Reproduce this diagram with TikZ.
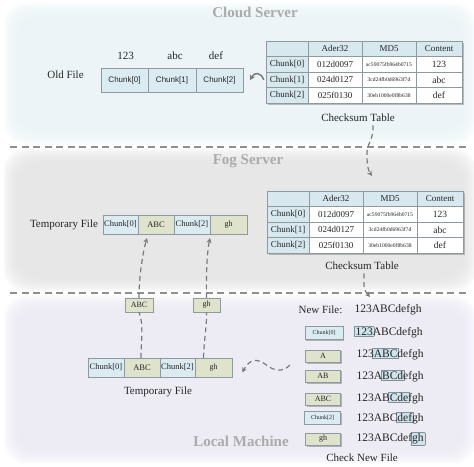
\documentclass[tikz,border=0pt]{standalone}
\usepackage{fontspec}
\setmainfont{Liberation Serif}
\newfontfamily\sansf{Liberation Sans}
\usetikzlibrary{shadows,arrows.meta}
\definecolor{chunkblue}{HTML}{DAEBF1}
\definecolor{litgreen}{HTML}{E0E3CB}
\definecolor{boxedge}{HTML}{8E9A9E}
\definecolor{hdrblue}{HTML}{D7E8EF}
\definecolor{titlegray}{HTML}{ABABAB}
\definecolor{sepgray}{HTML}{8F8F8F}
\definecolor{arrowgray}{HTML}{7A7A7A}
\definecolor{cloudbg}{HTML}{EAF4F7}
\definecolor{fogbg}{HTML}{E5E5E5}
\definecolor{localbg}{HTML}{ECEAF4}
\definecolor{winfill}{HTML}{CFE3EC}
\definecolor{winedge}{HTML}{7F9199}
\newcommand\fs[1]{\fontsize{#1}{#1}\selectfont}
\newlength\prewd
\newcommand\winline[3]{{\settowidth{\prewd}{#1}\setlength\fboxsep{0.9pt}\setlength\fboxrule{0.4pt}\rlap{\hspace*{\prewd}\hspace*{-1.3pt}\fcolorbox{winedge}{winfill}{\vphantom{A}\phantom{#2}}}#1#2#3}}
\newcommand\panel[5]{\foreach \i in {0,...,6}{\fill[#1, opacity=0.24, rounded corners=22pt] ({#2+\i*2.2},{#3+\i*2.2}) rectangle ({#4-\i*2.2},{#5-\i*2.2});}}
\tikzset{
  cbox/.style={draw=boxedge, line width=0.5pt, inner sep=0pt, text=black!85,
    drop shadow={shadow xshift=1.3pt, shadow yshift=-1.3pt, fill=black!50, opacity=0.55}},
  chunkbox/.style={cbox, fill=chunkblue},
  litbox/.style={cbox, fill=litgreen},
  tcell/.style={draw=boxedge, line width=0.5pt, inner sep=0pt, fill=white, text=black!85, font=\fs{9}},
  thdr/.style={tcell, fill=hdrblue},
  paneltitle/.style={text=titlegray, font=\bfseries\fs{15}},
  lbl/.style={text=black!85, font=\fs{11}},
  flowline/.style={draw=arrowgray, line width=1.2pt, dash pattern=on 5pt off 3.5pt},
  flow/.style={flowline, -{Stealth[length=5pt,width=5pt]}},
  solidflow/.style={draw=arrowgray, line width=1.5pt, -{Stealth[length=5pt,width=6pt]}}
}
\newcommand\chktable[3]{%
  \fill[black!50, opacity=0.5] ({#2+1.5},{#3+1.5}) rectangle ({#2+197.5},{#3+63.5});
  \node[thdr, minimum width=42pt, minimum height=15.5pt] (#1-0-0) at ({#2+21},{#3+7.75}) {};
  \node[thdr, minimum width=54pt, minimum height=15.5pt] (#1-0-1) at ({#2+69},{#3+7.75}) {Ader32};
  \node[thdr, minimum width=54pt, minimum height=15.5pt] (#1-0-2) at ({#2+123},{#3+7.75}) {MD5};
  \node[thdr, minimum width=46pt, minimum height=15.5pt] (#1-0-3) at ({#2+173},{#3+7.75}) {Content};
  \node[thdr, minimum width=42pt, minimum height=15.5pt] (#1-1-0) at ({#2+21},{#3+23.25}) {Chunk[0]};
  \node[tcell, minimum width=54pt, minimum height=15.5pt] (#1-1-1) at ({#2+69},{#3+23.25}) {012d0097};
  \node[tcell, minimum width=54pt, minimum height=15.5pt, font=\fs{5.6}] (#1-1-2) at ({#2+123},{#3+23.25}) {ac59075fb964b0715};
  \node[tcell, minimum width=46pt, minimum height=15.5pt, font=\fs{9.5}] (#1-1-3) at ({#2+173},{#3+23.25}) {123};
  \node[thdr, minimum width=42pt, minimum height=15.5pt] (#1-2-0) at ({#2+21},{#3+38.75}) {Chunk[1]};
  \node[tcell, minimum width=54pt, minimum height=15.5pt] (#1-2-1) at ({#2+69},{#3+38.75}) {024d0127};
  \node[tcell, minimum width=54pt, minimum height=15.5pt, font=\fs{5.6}] (#1-2-2) at ({#2+123},{#3+38.75}) {3cd24fb0d6963f7d};
  \node[tcell, minimum width=46pt, minimum height=15.5pt, font=\fs{9.5}] (#1-2-3) at ({#2+173},{#3+38.75}) {abc};
  \node[thdr, minimum width=42pt, minimum height=15.5pt] (#1-3-0) at ({#2+21},{#3+54.25}) {Chunk[2]};
  \node[tcell, minimum width=54pt, minimum height=15.5pt] (#1-3-1) at ({#2+69},{#3+54.25}) {025f0130};
  \node[tcell, minimum width=54pt, minimum height=15.5pt, font=\fs{5.6}] (#1-3-2) at ({#2+123},{#3+54.25}) {30eb1000e0f8b638};
  \node[tcell, minimum width=46pt, minimum height=15.5pt, font=\fs{9.5}] (#1-3-3) at ({#2+173},{#3+54.25}) {def};
}
\begin{document}
\begin{tikzpicture}[x=1pt,y=-1pt]
\fill[white] (0,0) rectangle (474,466);
\useasboundingbox (0,0) rectangle (474,466);
% panels
\panel{cloudbg}{4}{3}{476}{144}
\panel{fogbg}{4}{149}{476}{291}
\panel{localbg}{4}{296}{476}{463}
% separators
\draw[sepgray, line width=1.1pt, dash pattern=on 7pt off 4.5pt] (10,147) -- (466,147);
\draw[sepgray, line width=1.1pt, dash pattern=on 7pt off 4.5pt] (10,293) -- (466,293);
% titles
\node[paneltitle] (tcloud) at (255,12) {Cloud Server};
\node[paneltitle] (tfog) at (248,161) {Fog Server};
\node[paneltitle] (tlocal) at (241,441) {Local Machine};
% ---------- Cloud ----------
\node[lbl] (oldlbl) at (65.5,75) {Old File};
\node[chunkbox, minimum width=47pt, minimum height=23.5pt, font=\sansf\fs{8}] (oc0) at (124.5,80) {Chunk[0]};
\node[chunkbox, minimum width=47.5pt, minimum height=23.5pt, font=\sansf\fs{8}] (oc1) at (172,80) {Chunk[1]};
\node[chunkbox, minimum width=47pt, minimum height=23.5pt, font=\sansf\fs{8}] (oc2) at (219.5,80) {Chunk[2]};
\node[lbl] (v0) at (125.5,56) {123};
\node[lbl] (v1) at (175,56) {abc};
\node[lbl] (v2) at (216,56) {def};
\chktable{ct}{266}{41}
\node[lbl] (ctl) at (358,118) {Checksum Table};
\draw[solidflow] ([xshift=-2pt]ct-2-0.west) .. controls +(-3,-8) and +(4,-8) .. ([xshift=7pt]oc2.east);
% ---------- Fog ----------
\chktable{ft}{267}{191}
\node[lbl] (ftl) at (362,266) {Checksum Table};
\coordinate (ftin) at (372,176);
\draw[flow] ([xshift=15pt]ctl.south) .. controls (374,140) and (366,144) .. (367,155) .. controls (367,165) and (368,170) .. (ftin);
\node[lbl] (ftmp) at (64,225) {Temporary File};
\node[chunkbox, minimum width=35pt, minimum height=19pt, font=\fs{8.5}] (fc0) at (120.5,224.5) {Chunk[0]};
\node[litbox, minimum width=36pt, minimum height=19pt, font=\fs{8.5}] (fa) at (156,224.5) {ABC};
\node[chunkbox, minimum width=36pt, minimum height=19pt, font=\fs{8.5}] (fc2) at (192,224.5) {Chunk[2]};
\node[litbox, minimum width=37pt, minimum height=19pt, font=\fs{8}] (fg) at (228.5,224.5) {gh};
% ---------- Local ----------
\node[litbox, minimum width=28pt, minimum height=14pt, font=\fs{8}] (sabc) at (139,305) {ABC};
\node[litbox, minimum width=27pt, minimum height=14pt, font=\fs{8}] (sgh) at (206.5,305) {gh};
\coordinate (fain) at (147,238);
\coordinate (fgin) at (210,238);
\draw[flow] (sabc.north) .. controls (139,275) and (143,252) .. (fain);
\draw[flow] (sgh.north) .. controls (206,275) and (207,252) .. (fgin);
\node[chunkbox, minimum width=36pt, minimum height=19pt, font=\fs{8.5}] (lc0) at (106,367.5) {Chunk[0]};
\node[litbox, minimum width=36pt, minimum height=19pt, font=\fs{8.5}] (la) at (142,367.5) {ABC};
\node[chunkbox, minimum width=35pt, minimum height=19pt, font=\fs{8.5}] (lc2) at (177.5,367.5) {Chunk[2]};
\node[litbox, minimum width=37pt, minimum height=19pt, font=\fs{8}] (lg) at (213.5,367.5) {gh};
\node[lbl] (ltl) at (158,392) {Temporary File};
\draw[flowline] ([xshift=-1pt]la.north) .. controls (141,340) and (144,325) .. (sabc.south);
\draw[flowline] ([xshift=-10pt]lg.north) .. controls (204,340) and (207,325) .. (sgh.south);
% right column
\node[lbl] (nfl) at (320.5,310) {New File:};
\node[lbl, anchor=west, font=\fs{11.5}] (nf) at (351,310) {123ABCdefgh};
\coordinate (nfin) at (370,297);
\draw[flow] ([xshift=2pt]ftl.south) .. controls (364,285) and (363,289) .. (nfin);
\node[chunkbox, minimum width=38pt, minimum height=13pt, font=\fs{6}] (r1) at (324,333) {Chunk[0]};
\node[litbox, minimum width=35pt, minimum height=12.5pt, font=\fs{8}] (r2) at (323,356) {A};
\node[litbox, minimum width=35pt, minimum height=12.5pt, font=\fs{8}] (r3) at (323,376) {AB};
\node[litbox, minimum width=35pt, minimum height=12.5pt, font=\fs{8}] (r4) at (323,399) {ABC};
\node[chunkbox, minimum width=36pt, minimum height=12.5pt, font=\fs{6}] (r5) at (322.5,417.5) {Chunk[2]};
\node[litbox, minimum width=35pt, minimum height=12.5pt, font=\fs{8}] (r6) at (323,439) {gh};
\node[lbl, anchor=west, font=\fs{11.5}] (t1) at (352,332) {\winline{}{123}{ABCdefgh}};
\node[lbl, anchor=west, font=\fs{11.5}] (t2) at (353,354) {\winline{123}{ABC}{defgh}};
\node[lbl, anchor=west, font=\fs{11.5}] (t3) at (353,376) {\winline{123A}{BCd}{efgh}};
\node[lbl, anchor=west, font=\fs{11.5}] (t4) at (353,398) {\winline{123AB}{Cde}{fgh}};
\node[lbl, anchor=west, font=\fs{11.5}] (t5) at (353,418) {\winline{123ABC}{def}{gh}};
\node[lbl, anchor=west, font=\fs{11.5}] (t6) at (353,439) {\winline{123ABCdef}{gh}{}};
\node[lbl] (cnf) at (362,458) {Check New File};
\coordinate (wstart) at (290,365);
\draw[flow] (wstart) .. controls (282,373) and (274,371) .. (265,364) .. controls (258,359) and (250,358) .. ([xshift=10pt,yshift=-5pt]lg.east);
\end{tikzpicture}
\end{document}
